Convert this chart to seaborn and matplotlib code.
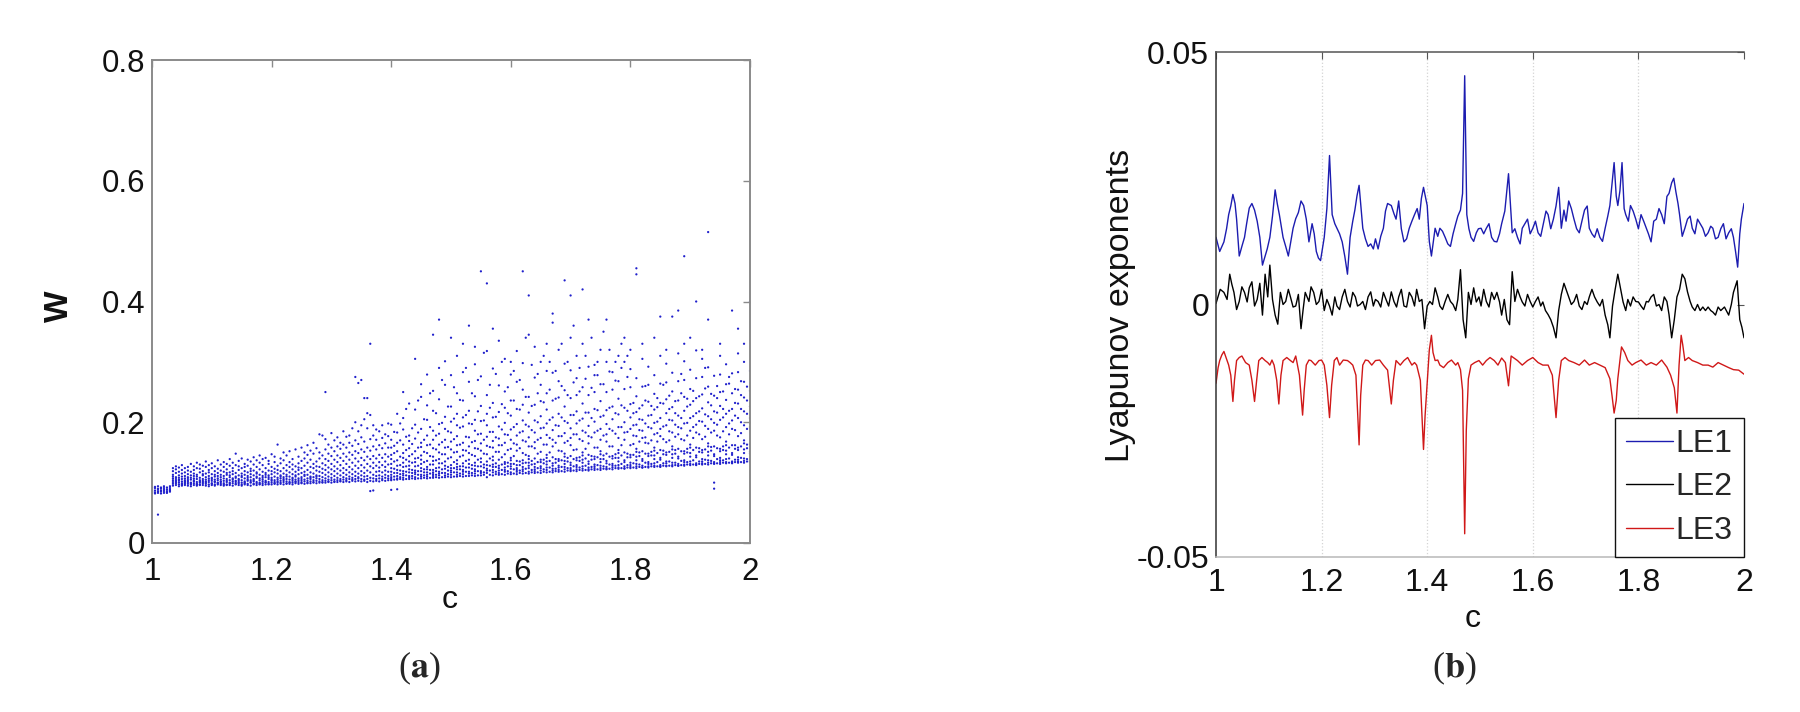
import matplotlib
matplotlib.use("Agg")
import matplotlib.pyplot as plt
import numpy as np
import pandas as pd
import seaborn as sns

# ---------------- data: panel (a) W vs c, read column by column ----------------
# narrow band before the jump (c = 1.00 .. 1.03)
W_SEG_A = {
    1.000: [0.083, 0.089, 0.086, 0.092, 0.085],
    1.005: [0.084, 0.091, 0.087, 0.093, 0.082],
    1.010: [0.085, 0.090, 0.083, 0.088, 0.094, 0.047],
    1.015: [0.082, 0.087, 0.092, 0.085, 0.090],
    1.020: [0.086, 0.083, 0.091, 0.088, 0.094],
    1.025: [0.084, 0.089, 0.092, 0.086, 0.083],
    1.030: [0.085, 0.091, 0.087, 0.094, 0.088],
}
# dense band (c = 1.035 .. 1.395)
W_SEG_B = {
    1.035: [0.095, 0.101, 0.098, 0.107, 0.113, 0.104, 0.119, 0.124, 0.110],
    1.040: [0.096, 0.099, 0.103, 0.109, 0.101, 0.116, 0.122, 0.106, 0.127],
    1.045: [0.094, 0.100, 0.097, 0.105, 0.112, 0.108, 0.118, 0.103, 0.125],
    1.050: [0.097, 0.095, 0.102, 0.110, 0.106, 0.099, 0.115, 0.121, 0.129],
    1.055: [0.096, 0.100, 0.104, 0.098, 0.111, 0.107, 0.117, 0.124, 0.102],
    1.060: [0.095, 0.098, 0.103, 0.101, 0.109, 0.114, 0.106, 0.126, 0.120],
    1.065: [0.097, 0.094, 0.100, 0.105, 0.112, 0.099, 0.118, 0.108, 0.131],
    1.070: [0.096, 0.102, 0.099, 0.107, 0.104, 0.115, 0.121, 0.111, 0.127],
    1.075: [0.095, 0.098, 0.101, 0.110, 0.097, 0.113, 0.106, 0.124, 0.133],
    1.080: [0.097, 0.100, 0.096, 0.104, 0.108, 0.117, 0.102, 0.123, 0.130],
    1.085: [0.096, 0.103, 0.099, 0.106, 0.112, 0.101, 0.119, 0.128, 0.114],
    1.090: [0.095, 0.098, 0.102, 0.109, 0.105, 0.115, 0.100, 0.126, 0.135],
    1.095: [0.097, 0.094, 0.101, 0.107, 0.111, 0.104, 0.121, 0.117, 0.129],
    1.100: [0.096, 0.099, 0.103, 0.098, 0.108, 0.114, 0.124, 0.106, 0.132],
    1.105: [0.095, 0.101, 0.097, 0.105, 0.110, 0.119, 0.102, 0.127, 0.113],
    1.110: [0.097, 0.100, 0.104, 0.099, 0.107, 0.116, 0.111, 0.123, 0.137],
    1.115: [0.096, 0.098, 0.102, 0.109, 0.105, 0.120, 0.130, 0.113, 0.101],
    1.120: [0.095, 0.099, 0.103, 0.097, 0.111, 0.107, 0.118, 0.126, 0.134],
    1.125: [0.097, 0.101, 0.096, 0.106, 0.113, 0.103, 0.122, 0.116, 0.131],
    1.130: [0.096, 0.100, 0.104, 0.098, 0.109, 0.117, 0.112, 0.128, 0.139],
    1.135: [0.095, 0.102, 0.099, 0.107, 0.114, 0.105, 0.124, 0.119, 0.133],
    1.140: [0.097, 0.098, 0.103, 0.110, 0.101, 0.116, 0.108, 0.129, 0.148],
    1.145: [0.096, 0.101, 0.099, 0.106, 0.112, 0.121, 0.104, 0.127, 0.136],
    1.150: [0.095, 0.100, 0.104, 0.097, 0.109, 0.115, 0.124, 0.111, 0.140],
    1.155: [0.097, 0.099, 0.102, 0.107, 0.113, 0.100, 0.119, 0.131, 0.126],
    1.160: [0.096, 0.103, 0.098, 0.105, 0.111, 0.117, 0.108, 0.128, 0.138],
    1.165: [0.095, 0.100, 0.104, 0.109, 0.101, 0.114, 0.123, 0.119, 0.135],
    1.170: [0.097, 0.098, 0.102, 0.106, 0.112, 0.120, 0.104, 0.130, 0.142],
    1.175: [0.096, 0.101, 0.099, 0.108, 0.115, 0.110, 0.126, 0.117, 0.137],
    1.180: [0.097, 0.100, 0.104, 0.098, 0.107, 0.113, 0.122, 0.133, 0.145],
    1.185: [0.096, 0.102, 0.099, 0.105, 0.111, 0.118, 0.108, 0.129, 0.139],
    1.190: [0.097, 0.100, 0.103, 0.109, 0.101, 0.116, 0.124, 0.113, 0.141],
    1.195: [0.098, 0.101, 0.097, 0.106, 0.112, 0.120, 0.131, 0.109, 0.136],
    1.200: [0.097, 0.103, 0.100, 0.108, 0.114, 0.105, 0.126, 0.119, 0.147],
    1.205: [0.098, 0.101, 0.104, 0.099, 0.110, 0.117, 0.123, 0.134, 0.143],
    1.210: [0.097, 0.100, 0.105, 0.108, 0.102, 0.115, 0.128, 0.121, 0.163],
    1.215: [0.098, 0.103, 0.100, 0.107, 0.112, 0.119, 0.110, 0.132, 0.140],
    1.220: [0.097, 0.101, 0.104, 0.109, 0.115, 0.106, 0.124, 0.137, 0.150],
    1.225: [0.099, 0.102, 0.098, 0.106, 0.113, 0.120, 0.129, 0.110, 0.145],
    1.230: [0.098, 0.101, 0.105, 0.100, 0.110, 0.117, 0.126, 0.134, 0.152],
    1.235: [0.097, 0.103, 0.100, 0.108, 0.114, 0.106, 0.122, 0.139, 0.130],
    1.240: [0.099, 0.102, 0.105, 0.110, 0.101, 0.118, 0.127, 0.112, 0.155],
    1.245: [0.098, 0.101, 0.104, 0.107, 0.114, 0.121, 0.132, 0.143, 0.125],
    1.250: [0.099, 0.103, 0.100, 0.109, 0.116, 0.106, 0.124, 0.136, 0.158],
    1.255: [0.098, 0.102, 0.105, 0.111, 0.118, 0.128, 0.113, 0.140, 0.150],
    1.260: [0.100, 0.103, 0.099, 0.107, 0.113, 0.121, 0.133, 0.146, 0.162],
    1.265: [0.099, 0.102, 0.106, 0.110, 0.117, 0.108, 0.126, 0.138, 0.153],
    1.270: [0.100, 0.104, 0.101, 0.109, 0.115, 0.124, 0.131, 0.148, 0.166],
    1.275: [0.099, 0.103, 0.107, 0.112, 0.120, 0.110, 0.135, 0.127, 0.157],
    1.280: [0.100, 0.102, 0.106, 0.111, 0.118, 0.126, 0.140, 0.150, 0.180],
    1.285: [0.101, 0.104, 0.100, 0.109, 0.116, 0.123, 0.132, 0.145, 0.178],
    1.290: [0.100, 0.103, 0.107, 0.113, 0.121, 0.129, 0.139, 0.155, 0.172, 0.250],
    1.295: [0.101, 0.105, 0.102, 0.110, 0.117, 0.125, 0.136, 0.148, 0.163],
    1.300: [0.100, 0.104, 0.108, 0.114, 0.122, 0.131, 0.144, 0.158, 0.182],
    1.305: [0.102, 0.105, 0.101, 0.111, 0.119, 0.127, 0.138, 0.152, 0.170],
    1.310: [0.101, 0.104, 0.108, 0.115, 0.123, 0.134, 0.145, 0.160, 0.175],
    1.315: [0.102, 0.106, 0.103, 0.112, 0.120, 0.129, 0.141, 0.156, 0.166],
    1.320: [0.101, 0.105, 0.109, 0.116, 0.124, 0.136, 0.148, 0.163, 0.185],
    1.325: [0.102, 0.104, 0.107, 0.113, 0.121, 0.131, 0.143, 0.158, 0.176],
    1.330: [0.101, 0.106, 0.110, 0.117, 0.126, 0.138, 0.150, 0.166, 0.178],
    1.335: [0.103, 0.105, 0.108, 0.114, 0.122, 0.133, 0.146, 0.161, 0.190],
    1.340: [0.102, 0.106, 0.111, 0.118, 0.128, 0.140, 0.152, 0.170, 0.200, 0.275],
    1.345: [0.103, 0.107, 0.109, 0.115, 0.124, 0.135, 0.149, 0.164, 0.185, 0.265],
    1.350: [0.102, 0.106, 0.112, 0.119, 0.129, 0.141, 0.155, 0.175, 0.195, 0.270],
    1.355: [0.103, 0.105, 0.110, 0.116, 0.125, 0.137, 0.151, 0.168, 0.205, 0.240],
    1.360: [0.101, 0.106, 0.111, 0.120, 0.131, 0.143, 0.158, 0.190, 0.215, 0.240],
    1.365: [0.086, 0.103, 0.108, 0.117, 0.127, 0.139, 0.153, 0.172, 0.212, 0.330],
    1.370: [0.087, 0.102, 0.107, 0.113, 0.124, 0.133, 0.144, 0.160, 0.178, 0.195],
    1.375: [0.103, 0.106, 0.111, 0.118, 0.128, 0.140, 0.155, 0.171, 0.188],
    1.380: [0.102, 0.107, 0.112, 0.119, 0.125, 0.134, 0.146, 0.162, 0.185],
    1.385: [0.104, 0.106, 0.110, 0.117, 0.129, 0.141, 0.157, 0.174, 0.195],
    1.390: [0.103, 0.108, 0.113, 0.120, 0.126, 0.135, 0.147, 0.165, 0.180],
    1.395: [0.104, 0.107, 0.111, 0.118, 0.130, 0.143, 0.158, 0.177, 0.198],
}
# widening cloud (c = 1.40 .. 2.00)
W_SEG_C = {
    1.40: [0.088, 0.104, 0.109, 0.106, 0.118, 0.113, 0.131, 0.124, 0.146, 0.139, 0.171, 0.158, 0.196],
    1.41: [0.089, 0.105, 0.111, 0.107, 0.121, 0.116, 0.128, 0.137, 0.152, 0.166, 0.183, 0.214],
    1.42: [0.105, 0.108, 0.115, 0.112, 0.126, 0.119, 0.141, 0.133, 0.163, 0.149, 0.188, 0.207, 0.250],
    1.43: [0.106, 0.111, 0.109, 0.117, 0.122, 0.135, 0.128, 0.157, 0.144, 0.178, 0.169, 0.231],
    1.44: [0.106, 0.109, 0.114, 0.120, 0.127, 0.117, 0.140, 0.152, 0.134, 0.173, 0.196, 0.221, 0.305],
    1.45: [0.107, 0.113, 0.110, 0.124, 0.119, 0.131, 0.145, 0.138, 0.166, 0.159, 0.189, 0.242, 0.263],
    1.46: [0.107, 0.110, 0.117, 0.113, 0.126, 0.136, 0.122, 0.149, 0.178, 0.162, 0.204, 0.228, 0.279],
    1.47: [0.108, 0.114, 0.111, 0.121, 0.130, 0.117, 0.143, 0.157, 0.136, 0.186, 0.171, 0.219, 0.252, 0.345],
    1.48: [0.108, 0.112, 0.118, 0.125, 0.115, 0.139, 0.132, 0.163, 0.150, 0.197, 0.181, 0.238, 0.290, 0.370],
    1.49: [0.109, 0.116, 0.112, 0.123, 0.135, 0.128, 0.147, 0.171, 0.158, 0.209, 0.189, 0.262, 0.301],
    1.50: [0.109, 0.113, 0.120, 0.117, 0.129, 0.142, 0.124, 0.155, 0.183, 0.168, 0.226, 0.201, 0.278, 0.340],
    1.51: [0.110, 0.117, 0.113, 0.126, 0.122, 0.137, 0.151, 0.131, 0.177, 0.162, 0.214, 0.195, 0.248, 0.310],
    1.52: [0.110, 0.114, 0.121, 0.118, 0.132, 0.145, 0.127, 0.166, 0.154, 0.193, 0.236, 0.208, 0.283, 0.330],
    1.53: [0.111, 0.118, 0.115, 0.125, 0.138, 0.131, 0.149, 0.175, 0.160, 0.219, 0.198, 0.267, 0.360],
    1.54: [0.111, 0.115, 0.122, 0.119, 0.133, 0.128, 0.144, 0.169, 0.157, 0.204, 0.186, 0.243, 0.296, 0.325],
    1.55: [0.112, 0.119, 0.116, 0.127, 0.140, 0.134, 0.153, 0.181, 0.165, 0.227, 0.202, 0.276, 0.450],
    1.56: [0.109, 0.116, 0.123, 0.120, 0.135, 0.147, 0.129, 0.161, 0.195, 0.176, 0.245, 0.214, 0.318, 0.430],
    1.57: [0.112, 0.117, 0.121, 0.130, 0.126, 0.143, 0.158, 0.137, 0.184, 0.169, 0.232, 0.208, 0.289, 0.355],
    1.58: [0.113, 0.120, 0.116, 0.128, 0.138, 0.124, 0.151, 0.173, 0.162, 0.217, 0.193, 0.261, 0.335],
    1.59: [0.113, 0.118, 0.125, 0.121, 0.134, 0.147, 0.131, 0.166, 0.199, 0.180, 0.251, 0.224, 0.305],
    1.60: [0.114, 0.117, 0.123, 0.131, 0.127, 0.141, 0.156, 0.137, 0.188, 0.171, 0.236, 0.211, 0.279, 0.300],
    1.61: [0.114, 0.121, 0.118, 0.129, 0.136, 0.124, 0.153, 0.178, 0.163, 0.222, 0.197, 0.267, 0.318],
    1.62: [0.115, 0.119, 0.126, 0.122, 0.137, 0.149, 0.132, 0.170, 0.203, 0.185, 0.254, 0.229, 0.298, 0.450],
    1.63: [0.115, 0.118, 0.124, 0.133, 0.128, 0.144, 0.160, 0.139, 0.193, 0.175, 0.242, 0.216, 0.345, 0.410],
    1.64: [0.116, 0.122, 0.119, 0.131, 0.140, 0.126, 0.157, 0.183, 0.167, 0.229, 0.203, 0.274, 0.325],
    1.65: [0.116, 0.120, 0.127, 0.124, 0.138, 0.151, 0.134, 0.174, 0.210, 0.190, 0.262, 0.235, 0.300],
    1.66: [0.117, 0.121, 0.125, 0.135, 0.130, 0.146, 0.163, 0.141, 0.198, 0.179, 0.248, 0.221, 0.285, 0.330],
    1.67: [0.117, 0.123, 0.120, 0.132, 0.142, 0.128, 0.160, 0.187, 0.171, 0.236, 0.208, 0.282, 0.365, 0.380],
    1.68: [0.118, 0.121, 0.128, 0.125, 0.139, 0.153, 0.136, 0.177, 0.214, 0.194, 0.268, 0.241, 0.320],
    1.69: [0.118, 0.122, 0.126, 0.136, 0.131, 0.148, 0.166, 0.143, 0.202, 0.182, 0.253, 0.226, 0.297, 0.435],
    1.70: [0.119, 0.124, 0.121, 0.133, 0.144, 0.129, 0.162, 0.190, 0.174, 0.240, 0.212, 0.286, 0.340, 0.410],
    1.71: [0.119, 0.122, 0.129, 0.126, 0.141, 0.155, 0.137, 0.180, 0.218, 0.198, 0.273, 0.245, 0.310],
    1.72: [0.120, 0.123, 0.127, 0.138, 0.133, 0.150, 0.169, 0.145, 0.206, 0.186, 0.258, 0.231, 0.330, 0.420],
    1.73: [0.120, 0.125, 0.122, 0.135, 0.146, 0.131, 0.165, 0.194, 0.177, 0.245, 0.216, 0.292, 0.370],
    1.74: [0.121, 0.124, 0.130, 0.127, 0.143, 0.158, 0.139, 0.183, 0.222, 0.201, 0.278, 0.250, 0.295],
    1.75: [0.121, 0.124, 0.128, 0.139, 0.134, 0.152, 0.171, 0.147, 0.209, 0.189, 0.263, 0.235, 0.320],
    1.76: [0.122, 0.126, 0.123, 0.136, 0.148, 0.132, 0.168, 0.197, 0.180, 0.250, 0.220, 0.300, 0.370],
    1.77: [0.122, 0.125, 0.131, 0.128, 0.144, 0.160, 0.140, 0.186, 0.226, 0.205, 0.283, 0.254],
    1.78: [0.123, 0.125, 0.129, 0.141, 0.135, 0.154, 0.174, 0.149, 0.213, 0.192, 0.268, 0.239, 0.310],
    1.79: [0.123, 0.127, 0.124, 0.137, 0.150, 0.134, 0.171, 0.200, 0.183, 0.255, 0.224, 0.300, 0.340],
    1.80: [0.124, 0.126, 0.133, 0.129, 0.146, 0.162, 0.142, 0.189, 0.230, 0.208, 0.288, 0.258, 0.320],
    1.81: [0.124, 0.127, 0.131, 0.143, 0.137, 0.156, 0.177, 0.151, 0.217, 0.196, 0.273, 0.243, 0.445, 0.455],
    1.82: [0.125, 0.128, 0.125, 0.139, 0.152, 0.136, 0.174, 0.204, 0.186, 0.259, 0.228, 0.305, 0.330],
    1.83: [0.125, 0.127, 0.134, 0.131, 0.148, 0.165, 0.144, 0.192, 0.234, 0.211, 0.292, 0.262],
    1.84: [0.126, 0.128, 0.132, 0.145, 0.139, 0.158, 0.180, 0.153, 0.221, 0.199, 0.278, 0.247, 0.340],
    1.85: [0.126, 0.129, 0.127, 0.141, 0.154, 0.138, 0.177, 0.207, 0.189, 0.264, 0.232, 0.310, 0.375],
    1.86: [0.127, 0.128, 0.135, 0.132, 0.150, 0.167, 0.146, 0.195, 0.238, 0.215, 0.297, 0.266, 0.320],
    1.87: [0.127, 0.129, 0.133, 0.147, 0.141, 0.160, 0.183, 0.155, 0.225, 0.203, 0.282, 0.251, 0.375],
    1.88: [0.128, 0.131, 0.128, 0.143, 0.156, 0.140, 0.180, 0.211, 0.192, 0.268, 0.236, 0.314, 0.385],
    1.89: [0.128, 0.130, 0.137, 0.134, 0.152, 0.170, 0.148, 0.198, 0.242, 0.219, 0.301, 0.270, 0.330, 0.475],
    1.90: [0.129, 0.131, 0.135, 0.149, 0.143, 0.163, 0.186, 0.158, 0.229, 0.207, 0.287, 0.255, 0.340],
    1.91: [0.129, 0.132, 0.130, 0.145, 0.158, 0.142, 0.183, 0.215, 0.196, 0.273, 0.240, 0.319, 0.400],
    1.92: [0.130, 0.132, 0.139, 0.135, 0.154, 0.172, 0.150, 0.201, 0.246, 0.223, 0.305, 0.275, 0.320],
    1.93: [0.130, 0.133, 0.137, 0.151, 0.145, 0.165, 0.189, 0.160, 0.233, 0.210, 0.291, 0.259, 0.370, 0.515],
    1.94: [0.090, 0.100, 0.131, 0.134, 0.132, 0.147, 0.160, 0.144, 0.186, 0.218, 0.199, 0.277, 0.244],
    1.95: [0.131, 0.134, 0.141, 0.137, 0.156, 0.175, 0.152, 0.204, 0.250, 0.227, 0.310, 0.279, 0.330],
    1.96: [0.132, 0.134, 0.139, 0.153, 0.147, 0.168, 0.192, 0.162, 0.237, 0.214, 0.296, 0.263],
    1.97: [0.132, 0.135, 0.133, 0.149, 0.162, 0.146, 0.189, 0.222, 0.203, 0.281, 0.248, 0.385],
    1.98: [0.133, 0.135, 0.142, 0.138, 0.158, 0.177, 0.154, 0.207, 0.254, 0.231, 0.314, 0.283, 0.355],
    1.99: [0.133, 0.136, 0.140, 0.155, 0.149, 0.170, 0.195, 0.165, 0.241, 0.218, 0.300, 0.267, 0.330],
    2.00: [0.134, 0.137, 0.135, 0.151, 0.164, 0.148, 0.192, 0.226, 0.207, 0.285, 0.252, 0.400],
}
# in-between columns of the widening cloud (c = 1.405 .. 1.995)
W_SEG_D = {
    1.405: [0.105, 0.110, 0.116, 0.123, 0.135, 0.149, 0.161, 0.184],
    1.415: [0.106, 0.109, 0.120, 0.114, 0.129, 0.143, 0.170, 0.198],
    1.425: [0.106, 0.112, 0.118, 0.127, 0.138, 0.154, 0.176, 0.222],
    1.435: [0.107, 0.111, 0.121, 0.116, 0.133, 0.147, 0.164, 0.190],
    1.445: [0.107, 0.113, 0.119, 0.128, 0.141, 0.158, 0.183, 0.236],
    1.455: [0.108, 0.112, 0.122, 0.117, 0.134, 0.151, 0.171, 0.205],
    1.465: [0.108, 0.115, 0.121, 0.130, 0.144, 0.163, 0.192, 0.248],
    1.475: [0.109, 0.113, 0.124, 0.119, 0.137, 0.155, 0.178, 0.215],
    1.485: [0.109, 0.116, 0.122, 0.132, 0.147, 0.167, 0.199, 0.270],
    1.495: [0.110, 0.114, 0.126, 0.120, 0.140, 0.159, 0.185, 0.226],
    1.505: [0.110, 0.117, 0.124, 0.134, 0.150, 0.172, 0.206, 0.258],
    1.515: [0.111, 0.115, 0.127, 0.122, 0.143, 0.163, 0.191, 0.237],
    1.525: [0.111, 0.118, 0.125, 0.136, 0.153, 0.176, 0.212, 0.290],
    1.535: [0.112, 0.116, 0.129, 0.123, 0.146, 0.167, 0.197, 0.248],
    1.545: [0.112, 0.119, 0.127, 0.138, 0.156, 0.180, 0.218, 0.270],
    1.555: [0.113, 0.117, 0.130, 0.125, 0.148, 0.171, 0.203, 0.315],
    1.565: [0.113, 0.120, 0.128, 0.140, 0.159, 0.184, 0.224, 0.262],
    1.575: [0.114, 0.118, 0.132, 0.126, 0.151, 0.175, 0.209, 0.280],
    1.585: [0.114, 0.121, 0.130, 0.142, 0.162, 0.188, 0.230, 0.300],
    1.595: [0.115, 0.119, 0.133, 0.127, 0.154, 0.179, 0.215, 0.258],
    1.605: [0.115, 0.122, 0.131, 0.144, 0.165, 0.192, 0.236, 0.285],
    1.615: [0.116, 0.120, 0.135, 0.129, 0.157, 0.183, 0.221, 0.270],
    1.625: [0.116, 0.123, 0.133, 0.146, 0.168, 0.196, 0.242, 0.340],
    1.635: [0.117, 0.121, 0.136, 0.130, 0.160, 0.187, 0.227, 0.295],
    1.645: [0.117, 0.124, 0.134, 0.148, 0.171, 0.200, 0.248, 0.280],
    1.655: [0.118, 0.122, 0.138, 0.132, 0.163, 0.191, 0.233, 0.310],
    1.665: [0.118, 0.125, 0.136, 0.150, 0.174, 0.204, 0.254, 0.300],
    1.675: [0.119, 0.123, 0.139, 0.133, 0.166, 0.195, 0.239, 0.285],
    1.685: [0.119, 0.126, 0.137, 0.152, 0.177, 0.208, 0.260, 0.330],
    1.695: [0.120, 0.124, 0.141, 0.135, 0.169, 0.199, 0.245, 0.300],
    1.705: [0.120, 0.127, 0.139, 0.154, 0.180, 0.212, 0.266, 0.360],
    1.715: [0.121, 0.125, 0.142, 0.136, 0.172, 0.203, 0.251, 0.290],
    1.725: [0.121, 0.128, 0.140, 0.156, 0.183, 0.216, 0.272, 0.310],
    1.735: [0.122, 0.126, 0.144, 0.138, 0.175, 0.207, 0.257, 0.340],
    1.745: [0.122, 0.129, 0.142, 0.158, 0.186, 0.220, 0.278, 0.300],
    1.755: [0.123, 0.127, 0.145, 0.139, 0.178, 0.211, 0.263, 0.350],
    1.765: [0.123, 0.130, 0.143, 0.160, 0.189, 0.224, 0.284, 0.320],
    1.775: [0.124, 0.128, 0.147, 0.141, 0.181, 0.215, 0.269, 0.300],
    1.785: [0.124, 0.131, 0.145, 0.162, 0.192, 0.228, 0.290, 0.330],
    1.795: [0.125, 0.129, 0.148, 0.142, 0.184, 0.219, 0.275, 0.310],
    1.805: [0.125, 0.132, 0.146, 0.164, 0.195, 0.232, 0.178, 0.215],
    1.815: [0.126, 0.130, 0.150, 0.144, 0.187, 0.223, 0.168, 0.205],
    1.825: [0.126, 0.133, 0.148, 0.166, 0.198, 0.236, 0.175, 0.260],
    1.835: [0.127, 0.131, 0.151, 0.145, 0.190, 0.227, 0.170, 0.212],
    1.845: [0.127, 0.134, 0.149, 0.168, 0.201, 0.240, 0.182, 0.225],
    1.855: [0.128, 0.132, 0.153, 0.147, 0.193, 0.231, 0.172, 0.262],
    1.865: [0.128, 0.135, 0.151, 0.170, 0.204, 0.244, 0.185, 0.222],
    1.875: [0.129, 0.133, 0.154, 0.148, 0.196, 0.235, 0.176, 0.215],
    1.885: [0.129, 0.136, 0.152, 0.172, 0.207, 0.248, 0.190, 0.280],
    1.895: [0.130, 0.134, 0.156, 0.150, 0.199, 0.239, 0.178, 0.226],
    1.905: [0.130, 0.137, 0.154, 0.174, 0.210, 0.252, 0.192, 0.235],
    1.915: [0.131, 0.135, 0.157, 0.151, 0.202, 0.243, 0.180, 0.218],
    1.925: [0.131, 0.138, 0.155, 0.176, 0.213, 0.256, 0.194, 0.290],
    1.935: [0.132, 0.136, 0.159, 0.153, 0.205, 0.247, 0.183, 0.228],
    1.945: [0.132, 0.139, 0.157, 0.178, 0.216, 0.260, 0.196, 0.240],
    1.955: [0.133, 0.137, 0.160, 0.154, 0.208, 0.251, 0.185, 0.222],
    1.965: [0.133, 0.140, 0.158, 0.180, 0.219, 0.264, 0.198, 0.275],
    1.975: [0.134, 0.138, 0.162, 0.156, 0.211, 0.255, 0.187, 0.232],
    1.985: [0.134, 0.141, 0.160, 0.182, 0.222, 0.268, 0.200, 0.245],
    1.995: [0.135, 0.139, 0.163, 0.157, 0.214, 0.259, 0.189, 0.236],
}

# ---------------- data: panel (b) Lyapunov exponents vs c ----------------
LE1_C = [1.000, 1.015, 1.024, 1.032, 1.039, 1.044, 1.054, 1.063, 1.073, 1.083,
         1.088, 1.093, 1.102, 1.112, 1.120, 1.127, 1.137, 1.146, 1.156, 1.166,
         1.171, 1.176, 1.182, 1.190, 1.198, 1.205, 1.215, 1.220, 1.229, 1.239,
         1.249, 1.254, 1.263, 1.271, 1.278, 1.288, 1.298, 1.307, 1.317, 1.325,
         1.332, 1.341, 1.346, 1.356, 1.366, 1.376, 1.385, 1.393, 1.400, 1.408,
         1.415, 1.424, 1.434, 1.444, 1.454, 1.463, 1.471, 1.475, 1.483, 1.493,
         1.502, 1.512, 1.522, 1.532, 1.541, 1.554, 1.561, 1.571, 1.580, 1.590,
         1.600, 1.610, 1.620, 1.629, 1.639, 1.649, 1.654, 1.659, 1.668, 1.678,
         1.688, 1.698, 1.707, 1.717, 1.727, 1.737, 1.746, 1.754, 1.761, 1.769,
         1.776, 1.785, 1.795, 1.805, 1.815, 1.824, 1.834, 1.844, 1.854, 1.863,
         1.871, 1.878, 1.888, 1.893, 1.902, 1.912, 1.922, 1.932, 1.941, 1.951,
         1.961, 1.971, 1.980, 1.988, 1.995, 2.000]
LE1_V = [0.0133, 0.0124, 0.0178, 0.0218, 0.0169, 0.0096, 0.0133, 0.0191, 0.0187, 0.0133,
         0.0078, 0.0096, 0.0133, 0.0227, 0.0178, 0.0133, 0.0096, 0.0151, 0.0182, 0.0196,
         0.0169, 0.0124, 0.0160, 0.0105, 0.0087, 0.0133, 0.0295, 0.0178, 0.0151, 0.0124,
         0.0060, 0.0133, 0.0187, 0.0236, 0.0151, 0.0115, 0.0110, 0.0110, 0.0151, 0.0200,
         0.0196, 0.0169, 0.0205, 0.0124, 0.0151, 0.0178, 0.0169, 0.0232, 0.0196, 0.0096,
         0.0151, 0.0151, 0.0133, 0.0115, 0.0160, 0.0187, 0.0453, 0.0178, 0.0133, 0.0142,
         0.0151, 0.0151, 0.0133, 0.0124, 0.0160, 0.0259, 0.0142, 0.0133, 0.0151, 0.0169,
         0.0151, 0.0142, 0.0160, 0.0178, 0.0169, 0.0232, 0.0151, 0.0187, 0.0205, 0.0169,
         0.0142, 0.0187, 0.0151, 0.0133, 0.0133, 0.0151, 0.0196, 0.0281, 0.0196, 0.0281,
         0.0178, 0.0196, 0.0169, 0.0178, 0.0151, 0.0124, 0.0169, 0.0178, 0.0214, 0.0241,
         0.0223, 0.0178, 0.0151, 0.0169, 0.0151, 0.0169, 0.0151, 0.0142, 0.0151, 0.0133,
         0.0160, 0.0142, 0.0133, 0.0074, 0.0169, 0.0200]
# finer wiggles of LE1 between the points above
LE1_FINE_C = [1.007, 1.020, 1.028, 1.036, 1.049, 1.058, 1.068, 1.078, 1.097, 1.107,
              1.116, 1.132, 1.141, 1.151, 1.161, 1.186, 1.194, 1.210, 1.225, 1.234,
              1.244, 1.259, 1.267, 1.283, 1.293, 1.302, 1.312, 1.321, 1.337, 1.351,
              1.361, 1.371, 1.381, 1.389, 1.404, 1.420, 1.429, 1.439, 1.449, 1.458,
              1.467, 1.479, 1.488, 1.497, 1.507, 1.517, 1.527, 1.537, 1.547, 1.566,
              1.576, 1.585, 1.595, 1.605, 1.615, 1.625, 1.634, 1.644, 1.663, 1.673,
              1.683, 1.693, 1.703, 1.712, 1.722, 1.732, 1.742, 1.758, 1.765, 1.773,
              1.781, 1.790, 1.800, 1.810, 1.819, 1.829, 1.839, 1.849, 1.858, 1.867,
              1.875, 1.883, 1.898, 1.907, 1.917, 1.927, 1.937, 1.946, 1.956, 1.966,
              1.976, 1.984, 1.992]
LE1_FINE_V = [0.0105, 0.0150, 0.0195, 0.0200, 0.0115, 0.0160, 0.0200, 0.0165, 0.0110, 0.0175,
              0.0200, 0.0115, 0.0120, 0.0170, 0.0205, 0.0140, 0.0092, 0.0190, 0.0160, 0.0140,
              0.0095, 0.0165, 0.0215, 0.0130, 0.0120, 0.0130, 0.0135, 0.0185, 0.0180, 0.0150,
              0.0130, 0.0165, 0.0190, 0.0210, 0.0125, 0.0135, 0.0145, 0.0120, 0.0140, 0.0175,
              0.0220, 0.0150, 0.0125, 0.0150, 0.0140, 0.0160, 0.0125, 0.0140, 0.0185, 0.0150,
              0.0120, 0.0160, 0.0140, 0.0165, 0.0135, 0.0185, 0.0150, 0.0195, 0.0165, 0.0190,
              0.0150, 0.0165, 0.0195, 0.0140, 0.0150, 0.0125, 0.0175, 0.0215, 0.0225, 0.0190,
              0.0165, 0.0185, 0.0150, 0.0165, 0.0140, 0.0165, 0.0190, 0.0160, 0.0220, 0.0250,
              0.0200, 0.0135, 0.0175, 0.0140, 0.0160, 0.0135, 0.0155, 0.0130, 0.0150, 0.0130,
              0.0150, 0.0105, 0.0140]

LE2_C = [1.000, 1.015, 1.026, 1.034, 1.044, 1.054, 1.063, 1.073, 1.083, 1.088,
         1.093, 1.098, 1.102, 1.112, 1.117, 1.122, 1.132, 1.141, 1.151, 1.161,
         1.169, 1.176, 1.185, 1.195, 1.205, 1.215, 1.220, 1.229, 1.239, 1.249,
         1.259, 1.268, 1.278, 1.288, 1.298, 1.307, 1.317, 1.327, 1.337, 1.346,
         1.356, 1.366, 1.376, 1.385, 1.395, 1.400, 1.405, 1.415, 1.424, 1.434,
         1.444, 1.454, 1.463, 1.468, 1.473, 1.478, 1.488, 1.498, 1.502, 1.512,
         1.522, 1.532, 1.541, 1.551, 1.561, 1.566, 1.576, 1.585, 1.595, 1.605,
         1.615, 1.624, 1.634, 1.644, 1.649, 1.659, 1.668, 1.678, 1.688, 1.698,
         1.707, 1.717, 1.727, 1.737, 1.746, 1.751, 1.761, 1.766, 1.776, 1.785,
         1.795, 1.805, 1.815, 1.824, 1.834, 1.844, 1.854, 1.863, 1.873, 1.883,
         1.888, 1.898, 1.907, 1.917, 1.927, 1.937, 1.946, 1.956, 1.971, 1.980,
         1.987, 1.992, 2.000]
LE2_V = [0.0002, 0.0024, 0.0060, 0.0024, 0.0006, 0.0024, 0.0033, -0.0003, 0.0042, -0.0021,
         0.0060, 0.0015, 0.0078, -0.0021, -0.0039, 0.0024, 0.0006, 0.0015, -0.0003, -0.0048,
         0.0024, 0.0006, 0.0024, 0.0006, -0.0012, -0.0003, -0.0021, -0.0003, 0.0015, 0.0006,
         0.0024, -0.0003, 0.0006, 0.0015, -0.0003, 0.0006, 0.0024, -0.0003, 0.0006, 0.0015,
         -0.0003, 0.0024, -0.0003, 0.0006, -0.0048, -0.0003, 0.0006, 0.0033, -0.0003, 0.0006,
         0.0006, -0.0012, 0.0069, -0.0030, -0.0066, 0.0024, 0.0033, 0.0015, -0.0003, 0.0006,
         0.0024, 0.0024, -0.0021, -0.0030, 0.0065, 0.0006, 0.0015, -0.0003, 0.0006, 0.0006,
         -0.0003, -0.0012, -0.0030, -0.0066, -0.0012, 0.0042, 0.0015, 0.0006, -0.0003, 0.0006,
         0.0015, 0.0015, -0.0003, -0.0021, -0.0066, -0.0003, 0.0060, 0.0033, -0.0012, -0.0003,
         0.0006, -0.0003, 0.0006, 0.0015, -0.0003, -0.0012, 0.0006, -0.0066, 0.0015, 0.0060,
         0.0051, 0.0006, -0.0012, -0.0012, -0.0012, -0.0012, -0.0021, -0.0012, -0.0021, 0.0024,
         0.0047, -0.0030, -0.0066]
LE2_FINE_C = [1.008, 1.021, 1.030, 1.039, 1.049, 1.059, 1.068, 1.078, 1.107, 1.127,
              1.137, 1.146, 1.156, 1.165, 1.180, 1.190, 1.200, 1.210, 1.225, 1.234,
              1.244, 1.254, 1.264, 1.273, 1.283, 1.293, 1.302, 1.312, 1.322, 1.332,
              1.342, 1.351, 1.361, 1.371, 1.380, 1.390, 1.410, 1.420, 1.429, 1.439,
              1.449, 1.458, 1.483, 1.493, 1.507, 1.517, 1.527, 1.537, 1.546, 1.556,
              1.571, 1.580, 1.590, 1.600, 1.610, 1.619, 1.629, 1.639, 1.654, 1.663,
              1.673, 1.683, 1.693, 1.703, 1.712, 1.722, 1.732, 1.742, 1.756, 1.771,
              1.780, 1.790, 1.800, 1.810, 1.819, 1.829, 1.839, 1.849, 1.858, 1.868,
              1.878, 1.893, 1.902, 1.912, 1.922, 1.932, 1.941, 1.951, 1.963, 1.976,
              1.996]
LE2_FINE_V = [0.0030, 0.0010, 0.0040, -0.0010, 0.0035, 0.0005, 0.0045, 0.0010, 0.0010, 0.0000,
              0.0030, -0.0005, 0.0020, -0.0010, 0.0035, 0.0000, 0.0030, 0.0010, 0.0015, -0.0010,
              0.0030, -0.0005, 0.0015, 0.0000, -0.0010, 0.0025, 0.0010, -0.0005, 0.0010, 0.0025,
              -0.0005, 0.0030, -0.0005, 0.0015, 0.0030, 0.0010, 0.0000, 0.0015, -0.0010, 0.0020,
              0.0000, 0.0010, 0.0000, 0.0005, 0.0030, -0.0005, 0.0010, 0.0005, 0.0010, -0.0040,
              0.0030, 0.0005, 0.0020, -0.0005, 0.0015, 0.0005, -0.0020, -0.0045, 0.0020, 0.0030,
              0.0000, 0.0020, -0.0010, 0.0000, 0.0030, 0.0005, 0.0010, -0.0040, 0.0030, 0.0005,
              0.0010, 0.0015, 0.0005, -0.0010, 0.0005, 0.0020, 0.0000, 0.0015, -0.0020, -0.0030,
              0.0030, 0.0025, -0.0005, 0.0000, -0.0005, -0.0005, -0.0015, -0.0005, -0.0005, 0.0000,
              -0.0045]

LE3_C = [1.000, 1.007, 1.015, 1.024, 1.032, 1.039, 1.049, 1.063, 1.073, 1.081,
         1.093, 1.102, 1.110, 1.119, 1.127, 1.141, 1.151, 1.164, 1.171, 1.180,
         1.195, 1.205, 1.215, 1.224, 1.234, 1.249, 1.259, 1.271, 1.278, 1.288,
         1.302, 1.317, 1.332, 1.341, 1.356, 1.371, 1.380, 1.393, 1.400, 1.408,
         1.415, 1.424, 1.439, 1.454, 1.463, 1.471, 1.478, 1.483, 1.498, 1.512,
         1.527, 1.541, 1.554, 1.559, 1.571, 1.590, 1.610, 1.629, 1.644, 1.654,
         1.668, 1.688, 1.707, 1.727, 1.746, 1.754, 1.761, 1.768, 1.780, 1.795,
         1.815, 1.834, 1.854, 1.868, 1.873, 1.881, 1.888, 1.902, 1.922, 1.941,
         1.961, 1.980, 2.000]
LE3_V = [-0.0156, -0.0111, -0.0093, -0.0120, -0.0192, -0.0111, -0.0102, -0.0120, -0.0192, -0.0111,
         -0.0111, -0.0120, -0.0120, -0.0197, -0.0111, -0.0111, -0.0102, -0.0219, -0.0120, -0.0111,
         -0.0111, -0.0120, -0.0224, -0.0111, -0.0120, -0.0111, -0.0120, -0.0278, -0.0120, -0.0111,
         -0.0111, -0.0120, -0.0197, -0.0111, -0.0111, -0.0120, -0.0120, -0.0287, -0.0156, -0.0061,
         -0.0111, -0.0120, -0.0115, -0.0120, -0.0129, -0.0454, -0.0147, -0.0120, -0.0111, -0.0111,
         -0.0111, -0.0106, -0.0161, -0.0102, -0.0111, -0.0111, -0.0115, -0.0120, -0.0224, -0.0111,
         -0.0111, -0.0120, -0.0120, -0.0120, -0.0147, -0.0215, -0.0147, -0.0084, -0.0111, -0.0115,
         -0.0120, -0.0120, -0.0124, -0.0165, -0.0215, -0.0061, -0.0111, -0.0111, -0.0120, -0.0124,
         -0.0120, -0.0129, -0.0138]
LE3_FINE_C = [1.004, 1.011, 1.019, 1.028, 1.035, 1.044, 1.056, 1.068, 1.077, 1.087,
              1.098, 1.106, 1.115, 1.123, 1.134, 1.146, 1.158, 1.167, 1.176, 1.188,
              1.200, 1.210, 1.219, 1.229, 1.241, 1.254, 1.265, 1.274, 1.283, 1.295,
              1.310, 1.325, 1.336, 1.349, 1.363, 1.376, 1.387, 1.396, 1.404, 1.411,
              1.420, 1.431, 1.446, 1.458, 1.467, 1.474, 1.490, 1.505, 1.519, 1.534,
              1.548, 1.563, 1.580, 1.600, 1.619, 1.637, 1.649, 1.661, 1.678, 1.698,
              1.717, 1.737, 1.750, 1.758, 1.765, 1.774, 1.788, 1.805, 1.824, 1.844,
              1.861, 1.877, 1.884, 1.895, 1.912, 1.932, 1.951, 1.971, 1.990]
LE3_FINE_V = [-0.0125, -0.0100, -0.0105, -0.0140, -0.0150, -0.0105, -0.0115, -0.0150, -0.0150, -0.0105,
              -0.0115, -0.0110, -0.0150, -0.0140, -0.0105, -0.0115, -0.0140, -0.0170, -0.0110, -0.0120,
              -0.0110, -0.0160, -0.0160, -0.0105, -0.0110, -0.0115, -0.0140, -0.0180, -0.0110, -0.0120,
              -0.0110, -0.0130, -0.0150, -0.0120, -0.0105, -0.0115, -0.0150, -0.0220, -0.0090, -0.0095,
              -0.0110, -0.0125, -0.0110, -0.0115, -0.0170, -0.0250, -0.0115, -0.0120, -0.0105, -0.0120,
              -0.0115, -0.0105, -0.0120, -0.0105, -0.0120, -0.0140, -0.0150, -0.0105, -0.0115, -0.0110,
              -0.0115, -0.0125, -0.0180, -0.0190, -0.0110, -0.0095, -0.0120, -0.0110, -0.0115, -0.0110,
              -0.0140, -0.0120, -0.0080, -0.0105, -0.0115, -0.0120, -0.0115, -0.0125, -0.0130]

LE_NAMES = ["LE1", "LE2", "LE3"]
LE_COLORS = ["#1c1cb0", "#000000", "#d01818"]

C_TICKS = [1, 1.2, 1.4, 1.6, 1.8, 2]
C_LABELS = ["1", "1.2", "1.4", "1.6", "1.8", "2"]
W_TICKS = [0, 0.2, 0.4, 0.6, 0.8]
W_LABELS = ["0", "0.2", "0.4", "0.6", "0.8"]
LE_TICKS = [-0.05, 0, 0.05]
LE_LABELS = ["-0.05", "0", "0.05"]

# ---------------- style ----------------
sns.set_style("white")
plt.rcParams["font.family"] = ["Liberation Sans", "DejaVu Sans"]
plt.rcParams["axes.unicode_minus"] = False
plt.rcParams["mathtext.fontset"] = "stix"

fig = plt.figure(figsize=(18, 7.12), dpi=100)
W, H = 1800.0, 712.0


def fbox(x0, y0, x1, y1):
    return [x0 / W, 1 - y1 / H, (x1 - x0) / W, (y1 - y0) / H]


ax1 = fig.add_axes(fbox(152, 60, 750, 543))
ax2 = fig.add_axes(fbox(1216, 52, 1744, 557))

# ---------------- panel (a) ----------------
sc_c, sc_w = [], []
for seg in (W_SEG_A, W_SEG_B, W_SEG_C, W_SEG_D):
    for c, col in seg.items():
        sc_c.extend([c] * len(col))
        sc_w.extend(col)
df_a = pd.DataFrame({"c": sc_c, "W": sc_w})
sns.scatterplot(data=df_a, x="c", y="W", ax=ax1, s=2.6, color="#2020cc",
                linewidth=0, edgecolor="none", legend=False)
ax1.set_xlim(1, 2)
ax1.set_ylim(0, 0.8)
ax1.set_xticks(C_TICKS)
ax1.set_xticklabels(C_LABELS)
ax1.set_yticks(W_TICKS)
ax1.set_yticklabels(W_LABELS)
ax1.set_xlabel("")
ax1.set_ylabel("")
for sp in ax1.spines.values():
    sp.set_visible(True)
    sp.set_color("#8a8a8a")
    sp.set_linewidth(1.4)
ax1.tick_params(direction="in", length=5, width=1, color="#8a8a8a",
                top=True, right=True, labelsize=22.5, labelcolor="#111111")
ax1.tick_params(axis="x", pad=10)
ax1.tick_params(axis="y", pad=5)

# ---------------- panel (b) ----------------
rows = []
series = [("LE1", LE1_C + LE1_FINE_C, LE1_V + LE1_FINE_V),
          ("LE2", LE2_C + LE2_FINE_C, LE2_V + LE2_FINE_V),
          ("LE3", LE3_C + LE3_FINE_C, LE3_V + LE3_FINE_V)]
for name, cs, vs in series:
    for c, v in zip(cs, vs):
        rows.append((name, c, v))
df_b = pd.DataFrame(rows, columns=["series", "c", "value"]).sort_values(["series", "c"])
sns.lineplot(data=df_b, x="c", y="value", hue="series", hue_order=LE_NAMES,
             palette=dict(zip(LE_NAMES, LE_COLORS)), estimator=None, sort=False,
             linewidth=1.0, ax=ax2)
ax2.set_xlim(1, 2)
ax2.set_ylim(-0.05, 0.05)
ax2.set_xticks(C_TICKS)
ax2.set_xticklabels(C_LABELS)
ax2.set_yticks(LE_TICKS)
ax2.set_yticklabels(LE_LABELS)
ax2.set_xlabel("")
ax2.set_ylabel("")
for t in C_TICKS[1:-1]:
    ax2.axvline(t, color="#d4d4d4", linestyle=":", linewidth=0.9, zorder=0)
ax2.spines["left"].set_color("#333333")
ax2.spines["top"].set_color("#555555")
ax2.spines["bottom"].set_color("#b8b8b8")
ax2.spines["right"].set_visible(False)
for sp in ["left", "top", "bottom"]:
    ax2.spines[sp].set_visible(True)
    ax2.spines[sp].set_linewidth(1.1)
ax2.tick_params(direction="in", length=5, width=0.8, color="#555555",
                top=True, right=True, labelsize=23, labelcolor="#111111")
ax2.tick_params(axis="x", pad=8)
ax2.tick_params(axis="y", pad=5)

leg = ax2.legend(loc="lower right", fontsize=23, frameon=True, fancybox=False,
                 borderaxespad=0, borderpad=0.35, handlelength=1.45,
                 handletextpad=0.1, labelspacing=0.42)
leg.get_frame().set_edgecolor("#111111")
leg.get_frame().set_linewidth(1.0)
leg.get_frame().set_facecolor("white")
leg.get_frame().set_alpha(1)

# ---------------- labels ----------------
fig.text(450 / W, 1 - 608 / H, "c", fontsize=23, ha="center", va="baseline", color="#111111")
fig.text(59 / W, 1 - 306 / H, "W", fontsize=24, fontweight="bold", rotation=90,
         ha="center", va="center", color="#111111")
fig.text(1473 / W, 1 - 627 / H, "c", fontsize=23, ha="center", va="baseline", color="#111111")
fig.text(1121 / W, 1 - 305 / H, "Lyapunov exponents", fontsize=24.5, rotation=90,
         ha="center", va="center", color="#111111")
fig.text(419 / W, 1 - 668 / H, r"($\mathbf{a}$)", fontsize=26, family="Liberation Serif",
         ha="center", va="center")
fig.text(1454 / W, 1 - 668 / H, r"($\mathbf{b}$)", fontsize=26, family="Liberation Serif",
         ha="center", va="center")

fig.savefig("out.png", dpi=100, facecolor="white")
